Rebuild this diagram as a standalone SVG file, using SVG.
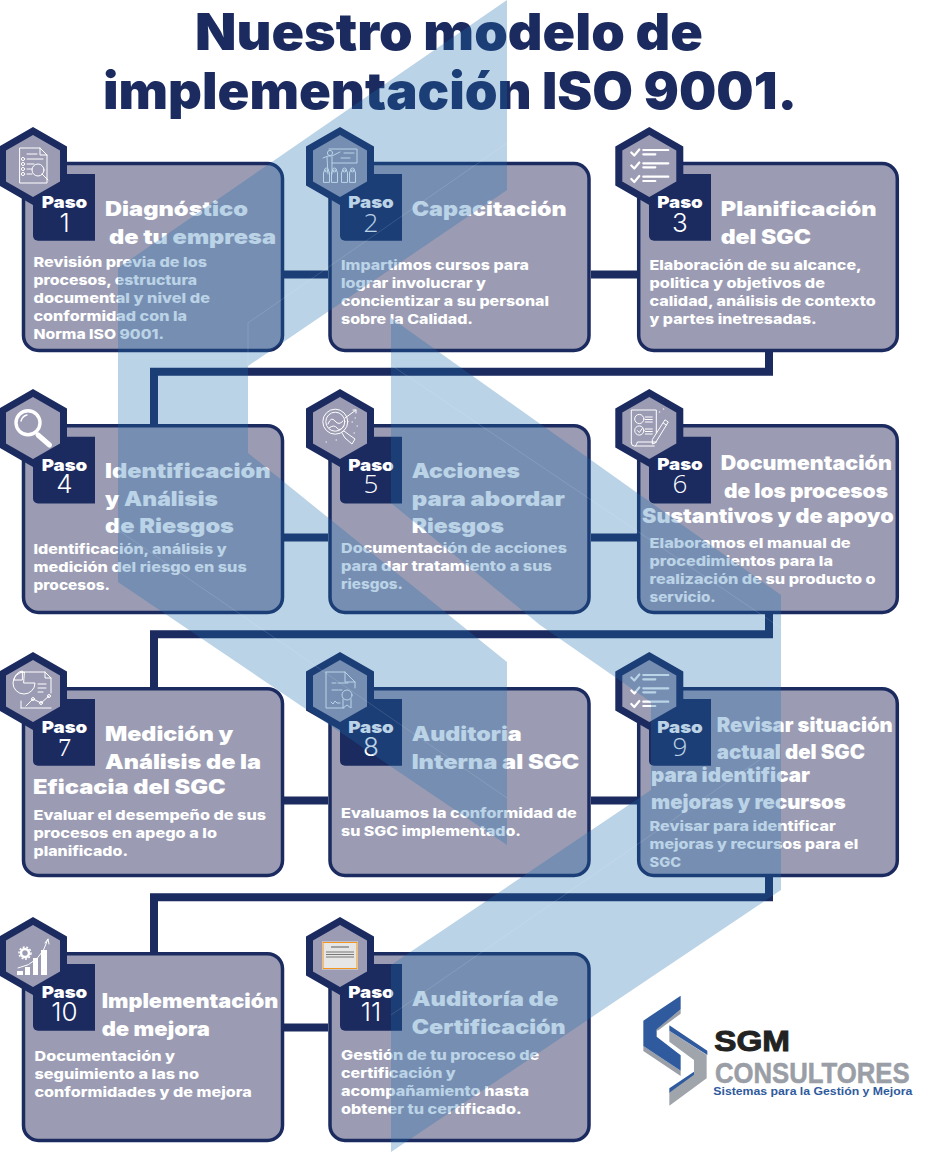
<svg xmlns="http://www.w3.org/2000/svg" width="925" height="1152" viewBox="0 0 925 1152">
<style>
text{font-family:"Inter","Open Sans","Liberation Sans",sans-serif;fill:#fff}
.t{font-size:51px;font-weight:900;fill:#1b2a5f}
.h{font-size:20px;font-weight:900}
.b{font-size:13.5px;font-weight:800}
.p{font-size:16.5px;font-weight:900;text-anchor:middle}
.n{font-size:26px;font-weight:300;text-anchor:middle}
.card{fill:#9b9cb3;stroke:#1b2a5f;stroke-width:3.5}
.con{fill:none;stroke:#1b2a5f;stroke-width:8}
.sq{fill:#1b2a5f}
.hex{fill:#9b9cb3;stroke:#1b2a5f;stroke-width:7;stroke-linejoin:miter}
.ic{fill:none;stroke:#fff;stroke-width:1;stroke-linejoin:round;stroke-linecap:round}
.ict{fill:none;stroke:#fff;stroke-width:2.2;stroke-linecap:round;stroke-linejoin:round}
.hair{fill:none;stroke:#fff;stroke-width:.6;stroke-opacity:.22}
</style>
<defs>
<path id="sq" class="sq" d="M0,0H62V66.7H5a5,5 0 0 1 -5,-5Z"/>
<polygon id="hex" class="hex" points="0,-35 30.5,-17.5 30.5,17.5 0,35 -30.5,17.5 -30.5,-17.5"/>
<g id="check">
<path class="ict" d="M-18,-13.5l3,3l5,-6M-6,-16H19M-6,-11.7H6"/>
<path class="ict" d="M-18,-0.5l3,3l5,-6M-6,-2.7H19M-6,1.3H6"/>
<path class="ict" d="M-18,13l3,3l5,-6M-6,10.7H19M-6,15H6"/>
</g>
</defs>
<g id="connectors">
<path class="con" d="M284,274.5H328M591,274.5H637M769,352V371.7H154V424"/>
<path class="con" d="M284,537.5H328M591,537.5H637M769,614V634.3H154V687"/>
<path class="con" d="M284,800.5H328M591,800.5H637M769,877V897.3H154V952"/>
<path class="con" d="M284,1027.5H328"/>
</g>
<g id="title">
<text class="t" x="195" y="49.5" textLength="508" lengthAdjust="spacingAndGlyphs">Nuestro modelo de</text>
<text class="t" x="103" y="108.5" textLength="694" lengthAdjust="spacingAndGlyphs">implementación ISO 9001.</text>
</g>
<g id="step1">
<rect class="card" x="23.5" y="163.5" width="259" height="187" rx="15"/>
<use href="#sq" x="33" y="174"/>
<use href="#hex" x="33" y="166"/>
<g transform="translate(33,166)"><path class="ic" d="M-13,-18H7L14,-11V17H-13ZM7,-18V-11H14M-6,-12H4M-6,-7H10M-6,-2H1M-6,3H-1M-6,8H-1"/><circle class="ic" cx="-10" cy="-7" r="1.6"/><circle class="ic" cx="-10" cy="-2" r="1.6"/><circle class="ic" cx="-10" cy="3" r="1.6"/><circle class="ic" cx="-10" cy="8" r="1.6"/><circle class="ic" cx="5" cy="4" r="6"/><path class="ic" d="M9,8L15,14"/></g>
<text class="p" x="64.5" y="208.3" textLength="45.6" lengthAdjust="spacingAndGlyphs">Paso</text>
<text class="n" x="64.5" y="231.7">1</text>
<text class="h" x="105" y="216" textLength="143" lengthAdjust="spacingAndGlyphs">Diagnóstico</text>
<text class="h" x="109" y="244" textLength="167" lengthAdjust="spacingAndGlyphs">de tu empresa</text>
<text class="b" x="33.5" y="266.7" textLength="173.5" lengthAdjust="spacingAndGlyphs">Revisión previa de los</text>
<text class="b" x="33.5" y="284.7" textLength="163.5" lengthAdjust="spacingAndGlyphs">procesos, estructura</text>
<text class="b" x="33.5" y="302.7" textLength="176.5" lengthAdjust="spacingAndGlyphs">documental y nivel de</text>
<text class="b" x="33.5" y="320.7" textLength="153.5" lengthAdjust="spacingAndGlyphs">conformidad con la</text>
<text class="b" x="33.5" y="338.7" textLength="130.5" lengthAdjust="spacingAndGlyphs">Norma ISO 9001.</text>
</g>
<g id="step2">
<rect class="card" x="330" y="163.5" width="259" height="187" rx="15"/>
<use href="#sq" x="340" y="174"/>
<use href="#hex" x="340" y="166"/>
<g transform="translate(340,166)"><path class="ic" d="M-11,-17H17V-3H-8M4,-13H14M1,-8H10"/><circle class="ic" cx="-10" cy="-13" r="2.6"/><path class="ic" d="M-17,-8L-12,-10H-8L0,-14M-13,-9L-12,8M-8,-9L-8,8"/><path class="ic" d="M-16.5,16V7a3,3 0 0 1 6,0V16ZM-8.5,16V7a3,3 0 0 1 6,0V16ZM1.5,16V7a3,3 0 0 1 6,0V16ZM9.5,16V7a3,3 0 0 1 6,0V16Z"/><circle class="ic" cx="-13.5" cy="4" r="2"/><circle class="ic" cx="-5.5" cy="4" r="2"/><circle class="ic" cx="4.5" cy="4" r="2"/><circle class="ic" cx="12.5" cy="4" r="2"/></g>
<text class="p" x="371" y="208.3" textLength="45.6" lengthAdjust="spacingAndGlyphs">Paso</text>
<text class="n" x="371" y="231.7" style="font-family:'Open Sans',sans-serif">2</text>
<text class="h" x="411.7" y="216" textLength="155" lengthAdjust="spacingAndGlyphs">Capacitación</text>
<text class="b" x="341" y="270" textLength="188" lengthAdjust="spacingAndGlyphs">Impartimos cursos para</text>
<text class="b" x="341" y="288" textLength="145" lengthAdjust="spacingAndGlyphs">lograr involucrar y</text>
<text class="b" x="341" y="306" textLength="208" lengthAdjust="spacingAndGlyphs">concientizar a su personal</text>
<text class="b" x="341" y="324" textLength="132" lengthAdjust="spacingAndGlyphs">sobre la Calidad.</text>
</g>
<g id="step3">
<rect class="card" x="638.7" y="163.5" width="258.6" height="187" rx="15"/>
<use href="#sq" x="649" y="174"/>
<use href="#hex" x="649.3" y="166"/>
<use href="#check" x="649.3" y="166"/>
<text class="p" x="680" y="208.3" textLength="45.6" lengthAdjust="spacingAndGlyphs">Paso</text>
<text class="n" x="680" y="231.7">3</text>
<text class="h" x="720.7" y="216" textLength="156" lengthAdjust="spacingAndGlyphs">Planificación</text>
<text class="h" x="720.7" y="244" textLength="90.3" lengthAdjust="spacingAndGlyphs">del SGC</text>
<text class="b" x="649.5" y="270" textLength="212.2" lengthAdjust="spacingAndGlyphs">Elaboración de su alcance,</text>
<text class="b" x="649.5" y="288" textLength="175.5" lengthAdjust="spacingAndGlyphs">politica y objetivos de</text>
<text class="b" x="649.5" y="306" textLength="226.2" lengthAdjust="spacingAndGlyphs">calidad, análisis de contexto</text>
<text class="b" x="649.5" y="324" textLength="167.2" lengthAdjust="spacingAndGlyphs">y partes inetresadas.</text>
</g>
<g id="step4">
<rect class="card" x="23.5" y="425.7" width="259" height="186.7" rx="15"/>
<use href="#sq" x="33" y="436.7"/>
<use href="#hex" x="33" y="428"/>
<g transform="translate(33,428)"><circle cx="-5" cy="-5.3" r="12" fill="none" stroke="#fff" stroke-width="3.4"/><path d="M-12,-7a8,8 0 0 1 6,-6" fill="none" stroke="#fff" stroke-width="1.4" stroke-linecap="round"/><path d="M5,7L16.5,17" fill="none" stroke="#fff" stroke-width="5" stroke-linecap="round"/></g>
<text class="p" x="64.5" y="470.7" textLength="45.6" lengthAdjust="spacingAndGlyphs">Paso</text>
<text class="n" x="64.5" y="493.3">4</text>
<text class="h" x="105" y="477.7" textLength="165.7" lengthAdjust="spacingAndGlyphs">Identificación</text>
<text class="h" x="105" y="505.7" textLength="113" lengthAdjust="spacingAndGlyphs">y Análisis</text>
<text class="h" x="105" y="533.3" textLength="129" lengthAdjust="spacingAndGlyphs">de Riesgos</text>
<text class="b" x="33.5" y="554" textLength="193.2" lengthAdjust="spacingAndGlyphs">Identificación, análisis y</text>
<text class="b" x="33.5" y="572" textLength="213.2" lengthAdjust="spacingAndGlyphs">medición del riesgo en sus</text>
<text class="b" x="33.5" y="590" textLength="76.5" lengthAdjust="spacingAndGlyphs">procesos.</text>
</g>
<g id="step5">
<rect class="card" x="330" y="425.7" width="259" height="186.7" rx="15"/>
<use href="#sq" x="340" y="436.7"/>
<use href="#hex" x="340" y="428"/>
<g transform="translate(340,428)"><circle class="ic" cx="-4.7" cy="-6.3" r="12.5"/><circle class="ic" cx="-4.7" cy="-6.3" r="9.5"/><path class="ic" d="M-12,-4Q-9,-12 -5,-7T3,-7M-11,0Q-6,-4 -3,0T4,-2M4,3L8,6L15,11L12,16L5,10L2,5ZM5,-10L16,-18M13,-18H16V-15"/><path class="ic" d="M12,-6h.5M15,-10h.5M17,-2h.5M-14,14h.5M-4,12h.5M14,5h.5" stroke-width="1.3"/></g>
<text class="p" x="371" y="470.7" textLength="45.6" lengthAdjust="spacingAndGlyphs">Paso</text>
<text class="n" x="371" y="493.3" style="font-family:'Open Sans',sans-serif">5</text>
<text class="h" x="411.7" y="477.7" textLength="108.3" lengthAdjust="spacingAndGlyphs">Acciones</text>
<text class="h" x="411.7" y="505.7" textLength="153.3" lengthAdjust="spacingAndGlyphs">para abordar</text>
<text class="h" x="411.7" y="533.3" textLength="92.3" lengthAdjust="spacingAndGlyphs">Riesgos</text>
<text class="b" x="341" y="553.3" textLength="226" lengthAdjust="spacingAndGlyphs">Documentación de acciones</text>
<text class="b" x="341" y="571.3" textLength="211" lengthAdjust="spacingAndGlyphs">para dar tratamiento a sus</text>
<text class="b" x="341" y="589.3" textLength="62" lengthAdjust="spacingAndGlyphs">riesgos.</text>
</g>
<g id="step6">
<rect class="card" x="638.7" y="425.7" width="258.6" height="186.7" rx="15"/>
<use href="#sq" x="649" y="436.7"/>
<use href="#hex" x="649.3" y="428"/>
<g transform="translate(649.3,428)"><path class="ic" d="M-18,15V-18H7V5M-18,15Q-18,18 -15,18H5M-14,18Q-12,16 -12,14H7"/><circle class="ic" cx="-10" cy="-9" r="4.6"/><circle class="ic" cx="-10" cy="2.5" r="4.6"/><path class="ic" d="M-4,-11H3M-4,-8.5H3M-4,-6H3M-4,1H3M-4,3.5H3M-4,6H3M-12,2.5l2,2l3,-4"/><path class="ic" d="M16,-8L19,-6L6,15L3,16L3,12ZM14,-5L17,-3"/><path class="ic" d="M10,-16h.5M14,-19h.5" stroke-width="1.3"/></g>
<text class="p" x="680" y="470" textLength="45.6" lengthAdjust="spacingAndGlyphs">Paso</text>
<text class="n" x="680" y="493.3" style="font-family:'Open Sans',sans-serif">6</text>
<text class="h" x="720.7" y="470" textLength="171.3" lengthAdjust="spacingAndGlyphs">Documentación</text>
<text class="h" x="724" y="497.7" textLength="164" lengthAdjust="spacingAndGlyphs">de los procesos</text>
<text class="h" x="642" y="523.3" textLength="251.7" lengthAdjust="spacingAndGlyphs">Sustantivos y de apoyo</text>
<text class="b" x="649.5" y="548.3" textLength="201.2" lengthAdjust="spacingAndGlyphs">Elaboramos el manual de</text>
<text class="b" x="649.5" y="566.3" textLength="183.5" lengthAdjust="spacingAndGlyphs">procedimientos para la</text>
<text class="b" x="649.5" y="584.3" textLength="226.2" lengthAdjust="spacingAndGlyphs">realización de su producto o</text>
<text class="b" x="649.5" y="602.3" textLength="66.2" lengthAdjust="spacingAndGlyphs">servicio.</text>
</g>
<g id="step7">
<rect class="card" x="23.5" y="688.7" width="259" height="186.7" rx="15"/>
<use href="#sq" x="33" y="699"/>
<use href="#hex" x="33" y="691"/>
<g transform="translate(33,691)"><path class="ic" d="M-13,-19H12L18,-13V2M12,-19V-13H18M-12,17H18M-12,10V17M5,-7H13M5,-3H13M5,1H10M-7,15L0,8L8,12L16,5"/><path class="ic" d="M-9,-19A11,11 0 1 0 2,-8H-9Z"/><path class="ic" d="M-11,-20A10,10 0 0 0 -19,-11H-11Z"/><circle class="ic" cx="0" cy="8" r="1.5"/><circle class="ic" cx="8" cy="12" r="1.5"/><circle class="ic" cx="16" cy="5" r="1.5"/></g>
<text class="p" x="64.5" y="733.3" textLength="45.6" lengthAdjust="spacingAndGlyphs">Paso</text>
<text class="n" x="64.5" y="756" style="font-family:'Liberation Serif',serif;font-weight:400">7</text>
<text class="h" x="105" y="741" textLength="128.3" lengthAdjust="spacingAndGlyphs">Medición y</text>
<text class="h" x="105" y="769" textLength="156" lengthAdjust="spacingAndGlyphs">Análisis de la</text>
<text class="h" x="33" y="794" textLength="192.7" lengthAdjust="spacingAndGlyphs">Eficacia del SGC</text>
<text class="b" x="33.5" y="819.7" textLength="232.5" lengthAdjust="spacingAndGlyphs">Evaluar el desempeño de sus</text>
<text class="b" x="33.5" y="837.7" textLength="183.5" lengthAdjust="spacingAndGlyphs">procesos en apego a lo</text>
<text class="b" x="33.5" y="855.7" textLength="94.5" lengthAdjust="spacingAndGlyphs">planificado.</text>
</g>
<g id="step8">
<rect class="card" x="330" y="688.7" width="259" height="186.7" rx="15"/>
<use href="#sq" x="340" y="699"/>
<use href="#hex" x="340" y="691"/>
<g transform="translate(340,691)"><path class="ic" d="M-14,-19H5L15,-9V-3M5,-19V-9H15M-14,-19V17H4M-8,-8H-4M-2,-8H8M-8,-1H-2M-1,-1H2M-9,11l2,2l2,-3l2,2h3"/><circle class="ic" cx="7" cy="4" r="5"/><path class="ic" d="M3,8V17L7,14L11,17V8"/></g>
<text class="p" x="371" y="733.3" textLength="45.6" lengthAdjust="spacingAndGlyphs">Paso</text>
<text class="n" x="371" y="756">8</text>
<text class="h" x="411.7" y="741" textLength="110" lengthAdjust="spacingAndGlyphs">Auditoria</text>
<text class="h" x="411.7" y="769" textLength="167.6" lengthAdjust="spacingAndGlyphs">Interna al SGC</text>
<text class="b" x="341" y="817.7" textLength="235.7" lengthAdjust="spacingAndGlyphs">Evaluamos la conformidad de</text>
<text class="b" x="341" y="835.7" textLength="180" lengthAdjust="spacingAndGlyphs">su SGC implementado.</text>
</g>
<g id="step9">
<rect class="card" x="638.7" y="688.7" width="258.6" height="186.7" rx="15"/>
<use href="#sq" x="649" y="699"/>
<use href="#hex" x="649.3" y="691"/>
<use href="#check" x="649.3" y="691"/>
<text class="p" x="680" y="733.3" textLength="45.6" lengthAdjust="spacingAndGlyphs">Paso</text>
<text class="n" x="680" y="756" style="font-family:'Open Sans',sans-serif">9</text>
<text class="h" x="716.7" y="731.7" textLength="176" lengthAdjust="spacingAndGlyphs">Revisar situación</text>
<text class="h" x="716.7" y="759.3" textLength="148.3" lengthAdjust="spacingAndGlyphs">actual del SGC</text>
<text class="h" x="651" y="782.3" textLength="159" lengthAdjust="spacingAndGlyphs">para identificar</text>
<text class="h" x="651" y="809.3" textLength="194.7" lengthAdjust="spacingAndGlyphs">mejoras y recursos</text>
<text class="b" x="649.5" y="830.7" textLength="186.2" lengthAdjust="spacingAndGlyphs">Revisar para identificar</text>
<text class="b" x="649.5" y="848.7" textLength="208.8" lengthAdjust="spacingAndGlyphs">mejoras y recursos para el</text>
<text class="b" x="649.5" y="866.7" textLength="31.5" lengthAdjust="spacingAndGlyphs">SGC</text>
</g>
<g id="step10">
<rect class="card" x="23.5" y="953.7" width="259" height="186.7" rx="15"/>
<use href="#sq" x="33" y="964"/>
<use href="#hex" x="33" y="956"/>
<g transform="translate(33,956)"><circle cx="-8" cy="-3" r="4" fill="none" stroke="#fff" stroke-width="2.5"/><circle cx="-8" cy="-3" r="6" fill="none" stroke="#fff" stroke-width="1.5" stroke-dasharray="2 1.6"/><path class="ic" d="M-15,12Q8,8 15,-17M12,-13L15,-17L16,-12" stroke-width="1.2"/><path d="M-16,15h6v4h-6zM-8,11h5v8h-5zM0,2h5v17h-5zM8,-6h6v25h-6z" fill="#fff"/></g>
<text class="p" x="64.5" y="998.3" textLength="45.6" lengthAdjust="spacingAndGlyphs">Paso</text>
<text class="n" x="64.5" y="1020.7">10</text>
<text class="h" x="101.7" y="1007.7" textLength="176.6" lengthAdjust="spacingAndGlyphs">Implementación</text>
<text class="h" x="101.7" y="1035.7" textLength="108.3" lengthAdjust="spacingAndGlyphs">de mejora</text>
<text class="b" x="34.5" y="1061" textLength="140.5" lengthAdjust="spacingAndGlyphs">Documentación y</text>
<text class="b" x="34.5" y="1079" textLength="164.5" lengthAdjust="spacingAndGlyphs">seguimiento a las no</text>
<text class="b" x="34.5" y="1097" textLength="217.2" lengthAdjust="spacingAndGlyphs">conformidades y de mejora</text>
</g>
<g id="step11">
<rect class="card" x="330" y="953.7" width="259" height="186.7" rx="15"/>
<use href="#sq" x="340" y="964"/>
<use href="#hex" x="340" y="956"/>
<g transform="translate(340,956)"><rect x="-18" y="-14.5" width="36" height="28" fill="#e6e6e6"/><rect x="-17" y="-13.5" width="34" height="26" fill="none" stroke="#f0951e" stroke-width="1"/><path d="M-9,-9H9" stroke="#8a8a8a" stroke-width="1.5"/><path d="M-14,-4H14M-14,-1.5H14M-14,1H14" stroke="#777" stroke-width="1"/></g>
<text class="p" x="371" y="998.3" textLength="45.6" lengthAdjust="spacingAndGlyphs">Paso</text>
<text class="n" x="371" y="1020.7">11</text>
<text class="h" x="411.7" y="1006" textLength="146.6" lengthAdjust="spacingAndGlyphs">Auditoría de</text>
<text class="h" x="411.7" y="1034" textLength="154" lengthAdjust="spacingAndGlyphs">Certificación</text>
<text class="b" x="341" y="1060" textLength="198.3" lengthAdjust="spacingAndGlyphs">Gestión de tu proceso de</text>
<text class="b" x="341" y="1078" textLength="114.7" lengthAdjust="spacingAndGlyphs">certificación y</text>
<text class="b" x="341" y="1096" textLength="188" lengthAdjust="spacingAndGlyphs">acompañamiento hasta</text>
<text class="b" x="341" y="1114" textLength="180.7" lengthAdjust="spacingAndGlyphs">obtener tu certificado.</text>
</g>
<g id="logo">
<g transform="translate(625,980) scale(.3333)">
<path d="M167,88V101L98,152L93,148ZM55,198V213L167,288V272Z" fill="#9a9ea6"/>
<path d="M167,47L55,122V198L167,272V226L95,170V148L167,88Z" fill="#2f5a9e"/>
<path d="M133,152L245,225V295L133,377V337L207,282V240L133,185Z" fill="#a0a4ab"/>
<path d="M133,136L247,212V225L133,152ZM133,325L207,275V284L133,338Z" fill="#2f5a9e"/>
</g>
<text x="714.3" y="1051" textLength="75.7" lengthAdjust="spacingAndGlyphs" style="font-family:'Liberation Sans',sans-serif;font-weight:700;font-size:30px;fill:#222;stroke:#222;stroke-width:1">SGM</text>
<text transform="translate(715,1082.7) scale(1,1.14)" style="font-family:'Liberation Sans',sans-serif;font-weight:700;font-size:25.7px;fill:#9a9ea6;stroke:#9a9ea6;stroke-width:.5">CONSULTORES</text>
<text x="713.3" y="1095" textLength="199" lengthAdjust="spacingAndGlyphs" style="font-family:'Liberation Sans',sans-serif;font-weight:700;font-size:11px;fill:#2f5a9e">Sistemas para la Gestión y Mejora</text>
</g>
<g id="watermark">
<path d="M507,0L118,268V582L507,845V662L248,453V366L507,190ZM391,318V503L540,625L651,702V790L391,965V1152L781,890V595Z" fill="#1f6cae" fill-opacity=".3"/>
<path class="hair" d="M248,366V323L507,143M118,530L507,798M391,365L781,628M391,1015L781,745"/>
</g>
</svg>
